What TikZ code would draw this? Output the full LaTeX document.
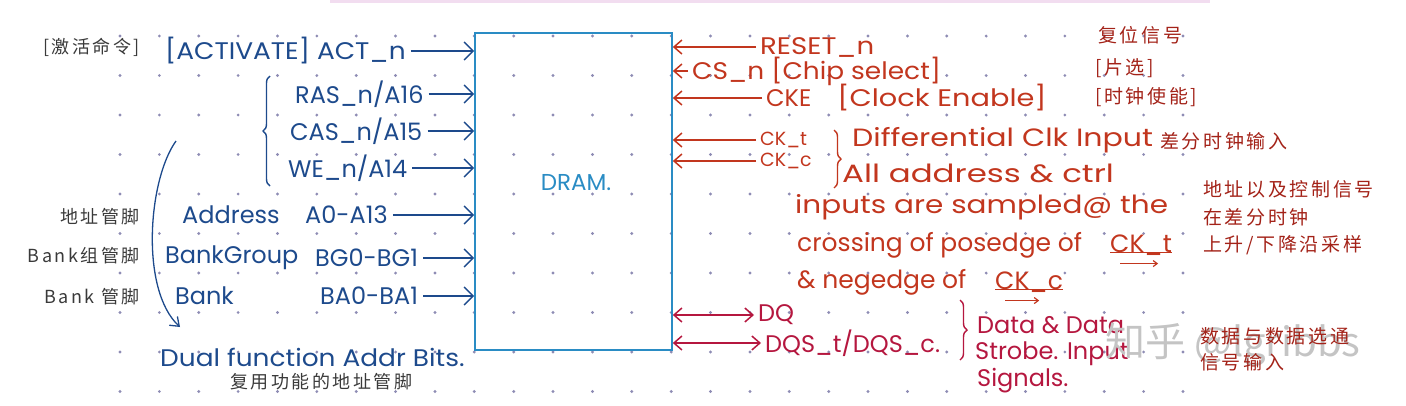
\documentclass[tikz,border=0pt]{standalone}
\usepackage{fontspec}
\setmainfont{Poppins}
\newfontfamily\cjk{Noto Sans CJK SC}
\newfontfamily\cjkw[LetterSpace=14]{Noto Sans CJK SC}
\usetikzlibrary{arrows.meta,decorations.pathreplacing}
\definecolor{navy}{HTML}{1D4A8C}
\definecolor{boxblue}{HTML}{2A8CC4}
\definecolor{redink}{HTML}{C2361E}
\definecolor{darkred}{HTML}{A32218}
\definecolor{crimson}{HTML}{B5173F}
\definecolor{pencil}{HTML}{3A3A3A}
\definecolor{gridc}{HTML}{8E8CB4}
\definecolor{wm}{HTML}{C4C4C4}
\definecolor{pinkband}{HTML}{F2DDF0}
\newcommand{\wide}[2]{\scalebox{#1}[1]{#2}}

\begin{document}
\begin{tikzpicture}[x=1pt,y=-1pt,
  blu/.style={anchor=west,inner sep=0pt,text=navy,font=\fontsize{24}{26}\selectfont},
  redtxt/.style={anchor=west,inner sep=0pt,text=redink,font=\fontsize{25}{27}\selectfont},
  dqtxt/.style={anchor=west,inner sep=0pt,text=crimson,font=\fontsize{24}{26}\selectfont},
  hint/.style={anchor=east,inner sep=0pt,text=pencil,font=\cjkw\fontsize{18}{20}\selectfont},
  cnred/.style={anchor=west,inner sep=0pt,text=darkred,font=\cjkw\fontsize{19}{21}\selectfont},
  inarrow/.style={navy,line width=1.5pt,shorten <=5pt,-{Straight Barb[length=9pt,width=18pt]}},
  outarrow/.style={redink,line width=1.5pt,shorten <=4pt,-{Straight Barb[length=8pt,width=14pt]}},
  bidir/.style={crimson,line width=1.5pt,shorten >=4pt,{Straight Barb[length=8pt,width=14pt]}-{Straight Barb[length=8pt,width=14pt]}},
  bracket/.style={line width=1.4pt,decorate,decoration={brace,amplitude=7pt}}]
  \useasboundingbox (0,0) rectangle (1406,405);
  \fill[pinkband] (330,0) rectangle (1210,3);
  % dotted paper
  \foreach \i in {0,...,27}
    \foreach \j in {0,...,9}
      \fill[gridc] (120+\i*39.37,36+\j*39.5) circle (1.6);
  % the chip
  \node[draw=boxblue,line width=1.6pt,minimum width=197pt,minimum height=317pt,inner sep=0pt] (dram) at (573.5,191.5) {};
  \node[text=boxblue,font=\fontsize{23}{25}\selectfont] (dramlbl) at (576,183) {DRAM.};
  % inputs on the left
  \foreach \nm/\xl/\yl/\txt in {
    act/165/51/{\wide{1.1}{[ACTIVATE] ACT\_n}},
    ras/295/94/{RAS\_n/A16},
    cas/290/131/{CAS\_n/A15},
    we/288/168/{WE\_n/A14},
    addr/305/215/{A0-A13},
    bg/315/258/{BG0-BG1},
    ba/320/296/{BA0-BA1}} {
    \node[blu] (\nm) at (\xl,\yl) {\txt};
    \draw[inarrow] (\nm.east) -- (\nm.east -| dram.west);
  }
  \node[blu] (addrn) at (182,215) {Address};
  \node[blu] (bgn) at (165,258) {BankGroup};
  \node[blu] (ban) at (175,296) {Bank};
  \draw[navy,bracket] (270,186) -- (270,76);
  \coordinate (dfs) at (176,141);
  \coordinate (dfe) at (180,327);
  \draw[navy,line width=1.3pt,-{Straight Barb[length=8pt,width=12pt]}] (dfs) .. controls (148,180) and (140,290) .. (dfe);
  \node[blu] (dual) at (160,357) {\wide{1.1}{Dual function Addr Bits.}};
  \node[hint,anchor=west,font=\cjkw\fontsize{18}{20}\selectfont] (dualcn) at (230,382) {复用功能的地址管脚};
  % pencil notes
  \node[hint] (hact) at (140,47) {[激活命令]};
  \node[hint] (haddr) at (140,217) {地址管脚};
  \node[hint] (hbg) at (140,256) {Bank组管脚};
  \node[hint] (hba) at (140,297) {Bank 管脚};
  % inputs on the right
  \foreach \nm/\xl/\yl/\txt in {
    rst/760/47/{\wide{1.15}{RESET\_n}},
    cs/692/71/{\wide{1.1}{CS\_n [Chip select]}},
    cke/766/98/{CKE\hspace{26pt}\wide{1.2}{[Clock Enable]}}} {
    \node[redtxt,font=\fontsize{24}{26}\selectfont] (\nm) at (\xl,\yl) {\txt};
    \draw[outarrow] (\nm.west) -- (\nm.west -| dram.east);
  }
  \node[redtxt,font=\fontsize{19}{20}\selectfont] (ckt) at (760,140) {CK\_t};
  \node[redtxt,font=\fontsize{19}{20}\selectfont] (ckc) at (760,161) {CK\_c};
  \draw[outarrow] (ckt.west) -- (ckt.west -| dram.east);
  \draw[outarrow] (ckc.west) -- (ckc.west -| dram.east);
  \draw[redink,bracket] (834,130) -- (834,188);
  \node[redtxt] (diff) at (852,140) {\wide{1.2}{Differential Clk Input}};
  \node[redtxt] (all) at (842,173) {\wide{1.3}{All address \& ctrl}};
  \node[redtxt] (samp) at (795,207) {\wide{1.18}{inputs are sampled@ the}};
  \node[redtxt] (cross) at (797,245) {crossing of posedge of};
  \node[redtxt] (ckt2) at (1110,245) {CK\_t};
  \node[redtxt] (neg) at (797,282) {\& negedge of};
  \node[redtxt] (ckc2) at (995,282) {CK\_c};
  \draw[redink,line width=1.2pt] ([yshift=3pt]ckt2.south west) -- ([yshift=3pt]ckt2.south east);
  \draw[redink,line width=1.2pt,-{Straight Barb[length=4pt,width=6pt]}] ([shift={(10,8)}]ckt2.south west) -- ([shift={(-14,8)}]ckt2.south east);
  \draw[redink,line width=1.2pt] ([yshift=3pt]ckc2.south west) -- ([yshift=3pt]ckc2.south east);
  \draw[redink,line width=1.2pt,-{Straight Barb[length=4pt,width=6pt]}] ([shift={(10,8)}]ckc2.south west) -- ([shift={(-24,8)}]ckc2.south east);
  % data lines
  \node[dqtxt] (dq) at (758,315) {DQ};
  \node[dqtxt] (dqs) at (765,343) {DQS\_t/DQS\_c.};
  \draw[bidir] (dq.west -| dram.east) -- (dq.west);
  \draw[bidir] (dqs.west -| dram.east) -- (dqs.west);
  \draw[crimson,bracket] (960,300) -- (960,360);
  \node[dqtxt] (dd1) at (977,325) {Data \& Data};
  \node[dqtxt] (dd2) at (975,354) {Strobe. Input};
  \node[dqtxt] (dd3) at (977,381) {Signals.};
  \node[anchor=west,inner sep=0pt,text=wm,font=\cjk\fontsize{40}{44}\selectfont] (wmark) at (1105,345) {知乎 @lgribbs};
  % chinese notes on the right
  \foreach \nm/\xl/\yl/\txt in {
    cnrst/1098/35/{复位信号},
    cncs/1095/68/{[片选]},
    cncke/1095/97/{[时钟使能]},
    cndiff/1160/141/{差分时钟输入},
    cns1/1203/189/{地址以及控制信号},
    cns2/1203/217/{在差分时钟},
    cns3/1203/245/{上升/下降沿采样},
    cndq1/1200/336/{数据与数据选通},
    cndq2/1200/362/{信号输入}} {
    \node[cnred] (\nm) at (\xl,\yl) {\txt};
  }
\end{tikzpicture}
\end{document}
